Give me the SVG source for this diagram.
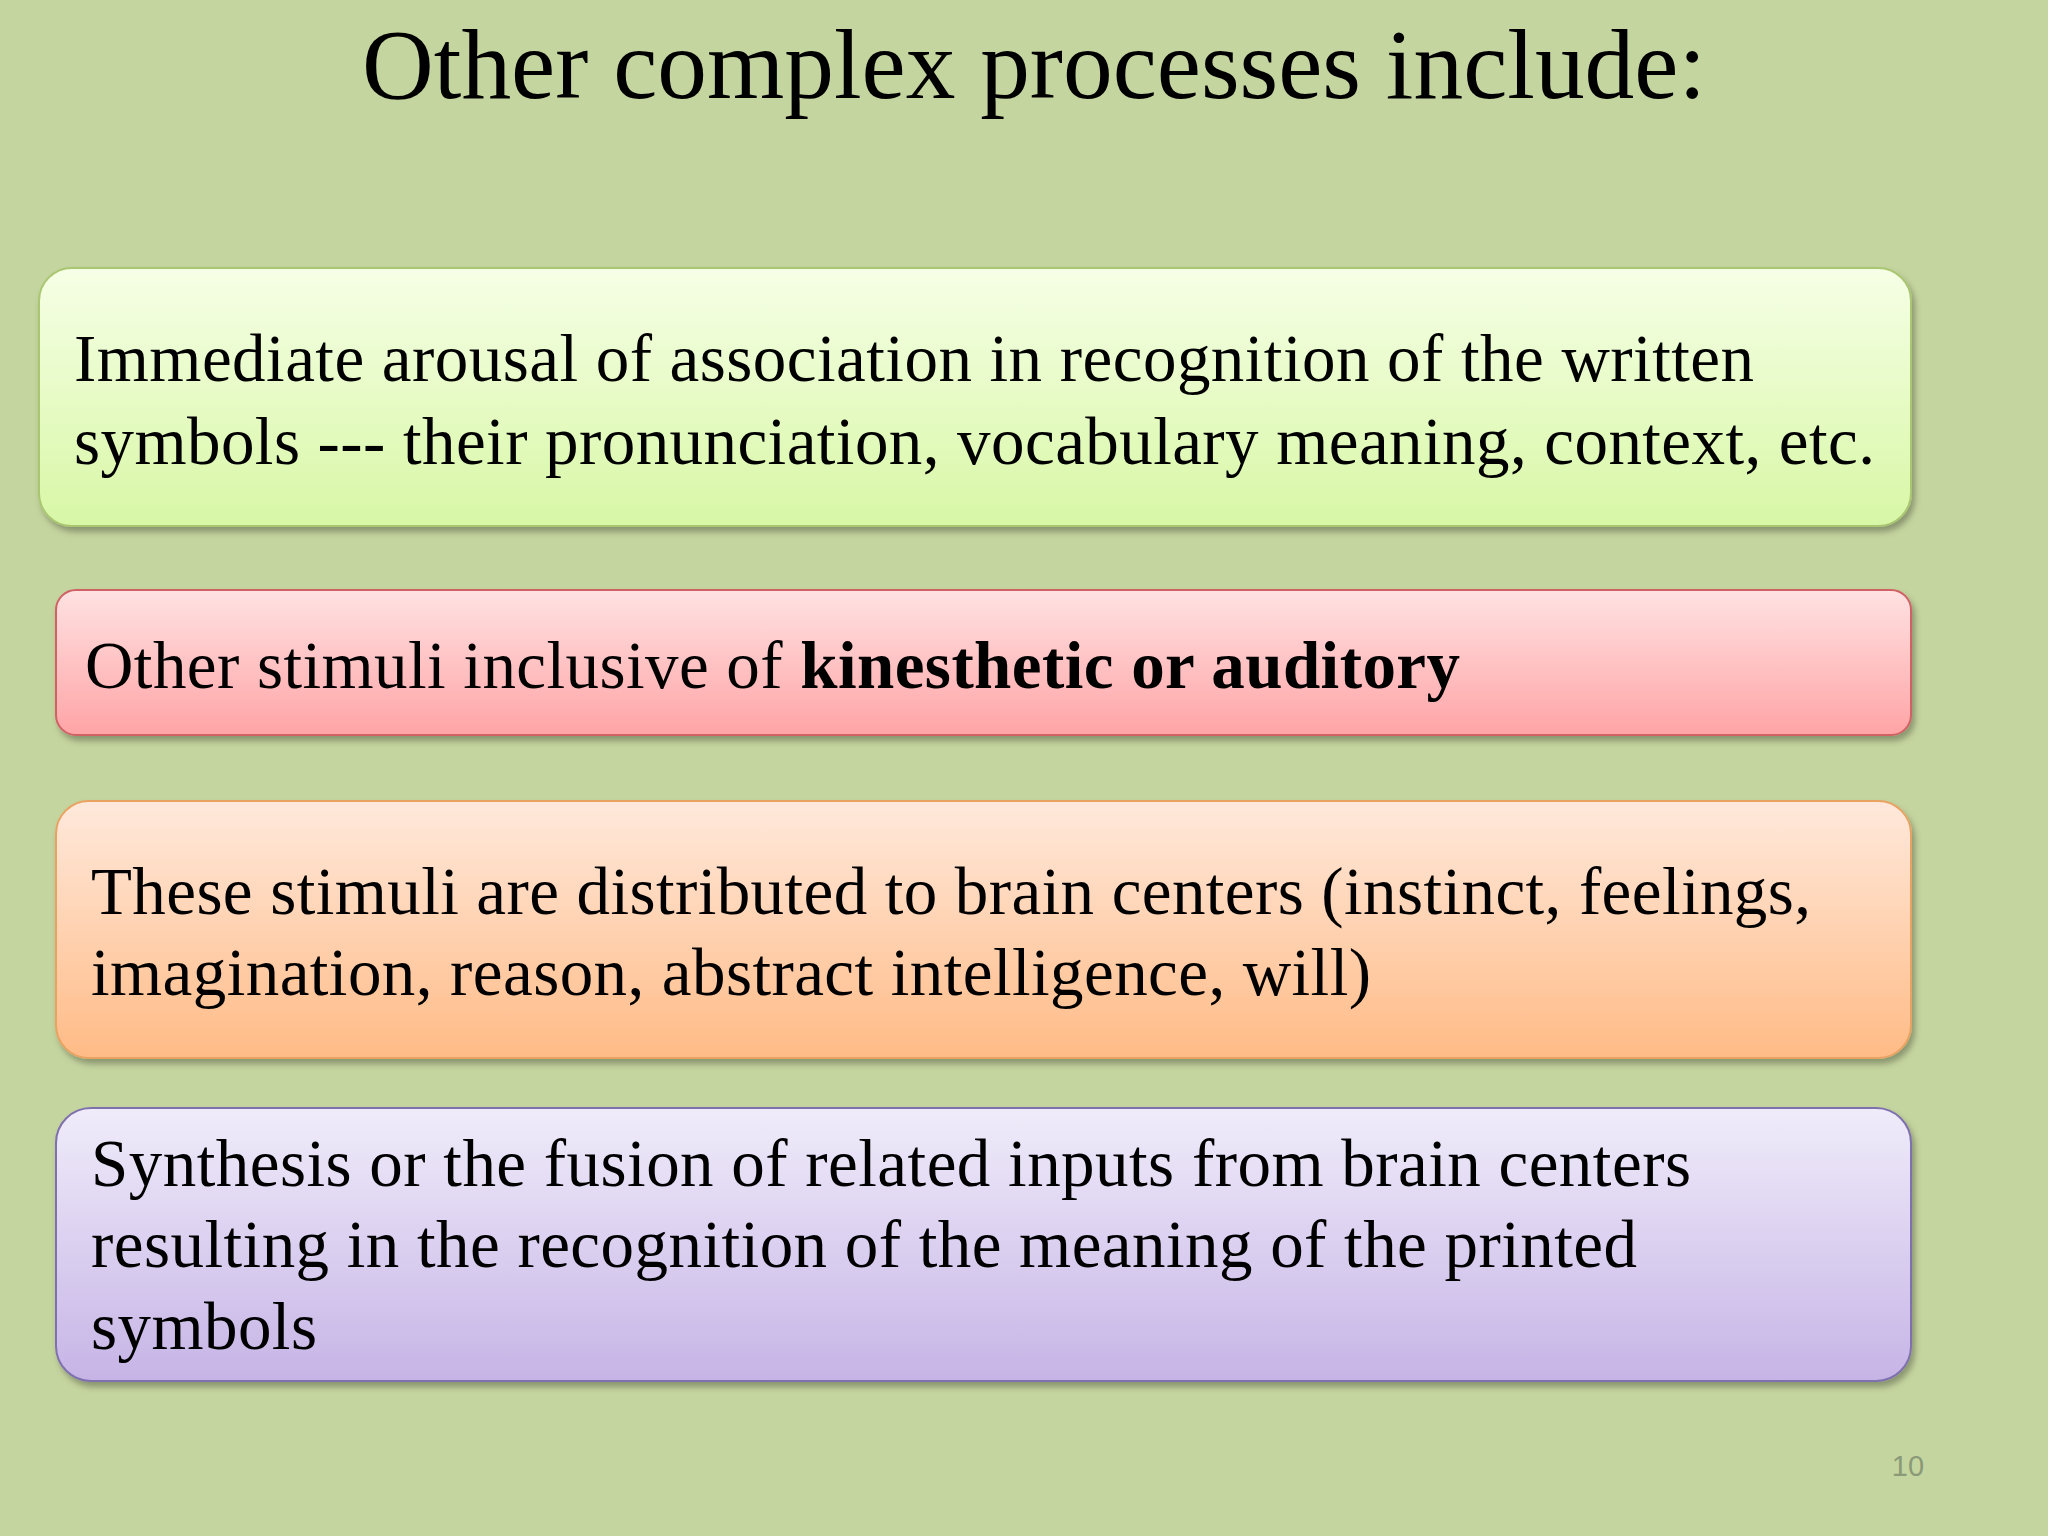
<svg xmlns="http://www.w3.org/2000/svg" width="2048" height="1536" viewBox="0 0 2048 1536">
<defs>
<linearGradient id="g1" x1="0" y1="0" x2="0" y2="1"><stop offset="0" stop-color="#f6ffe6"/><stop offset="1" stop-color="#d8f7a6"/></linearGradient>
<linearGradient id="g2" x1="0" y1="0" x2="0" y2="1"><stop offset="0" stop-color="#ffe2e2"/><stop offset="1" stop-color="#ffa4a6"/></linearGradient>
<linearGradient id="g3" x1="0" y1="0" x2="0" y2="1"><stop offset="0" stop-color="#ffe9dc"/><stop offset="1" stop-color="#ffbb86"/></linearGradient>
<linearGradient id="g4" x1="0" y1="0" x2="0" y2="1"><stop offset="0" stop-color="#f0ecfa"/><stop offset="1" stop-color="#c6b4e6"/></linearGradient>
<filter id="sh" x="-5%" y="-10%" width="110%" height="130%"><feDropShadow dx="3" dy="5" stdDeviation="3" flood-color="#000" flood-opacity="0.3"/></filter>
</defs>
<style>
.t{font-family:"Liberation Serif",serif;font-size:67px;fill:#000}
.b{stroke-width:2;filter:url(#sh)}
</style>
<rect width="2048" height="1536" fill="#c5d59f"/>
<text x="362" y="98" font-family="Liberation Serif,serif" font-size="99" fill="#000" textLength="1344" lengthAdjust="spacingAndGlyphs">Other complex processes include:</text>
<g id="n1"><rect class="b" x="39" y="268" width="1872" height="258" rx="33" fill="url(#g1)" stroke="#a9c671"/>
<text class="t" x="74" y="381" textLength="1680">Immediate arousal of association in recognition of the written</text>
<text class="t" x="74" y="464" textLength="1801">symbols --- their pronunciation, vocabulary meaning, context, etc.</text></g>
<g id="n2"><rect class="b" x="56" y="590" width="1855" height="145" rx="20" fill="url(#g2)" stroke="#d06266"/>
<text class="t" x="85" y="688" textLength="1375">Other stimuli inclusive of <tspan font-weight="bold">kinesthetic or auditory</tspan></text></g>
<g id="n3"><rect class="b" x="56" y="801" width="1855" height="257" rx="33" fill="url(#g3)" stroke="#e8a362"/>
<text class="t" x="91" y="914" textLength="1720">These stimuli are distributed to brain centers (instinct, feelings,</text>
<text class="t" x="91" y="995" textLength="1280">imagination, reason, abstract intelligence, will)</text></g>
<g id="n4"><rect class="b" x="56" y="1108" width="1855" height="273" rx="35" fill="url(#g4)" stroke="#7f70ae"/>
<text class="t" x="91" y="1186" textLength="1600">Synthesis or the fusion of related inputs from brain centers</text>
<text class="t" x="91" y="1267" textLength="1546">resulting in the recognition of the meaning of the printed</text>
<text class="t" x="91" y="1349" textLength="226">symbols</text></g>
<g id="connectors"/>
<text x="1908" y="1476" text-anchor="middle" font-family="Liberation Sans,sans-serif" font-size="29" fill="#8a9a78">10</text>
</svg>
